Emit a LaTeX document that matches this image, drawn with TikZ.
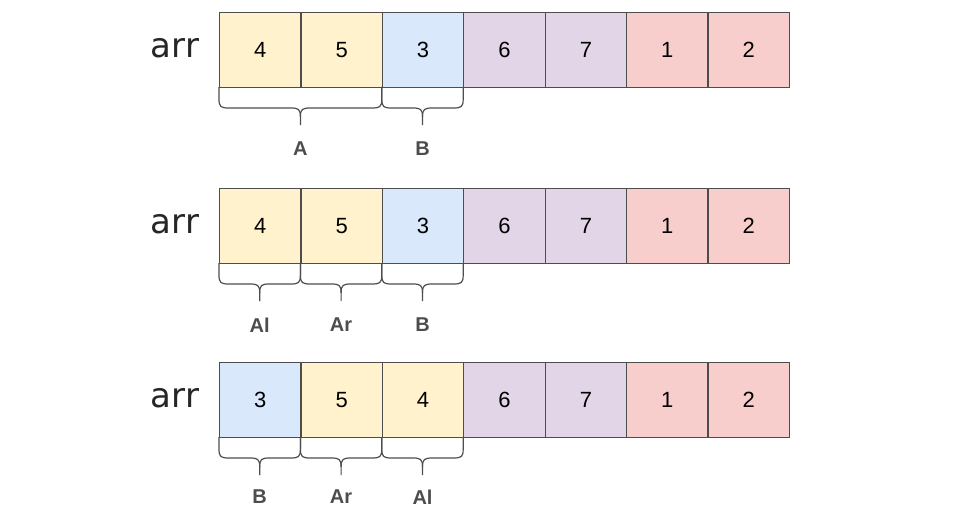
\documentclass[tikz,border=0pt]{standalone}
\usepackage{fontspec}
\setmainfont{Liberation Sans}
\newfontfamily\arrfont{DejaVu Sans}
\definecolor{cy}{HTML}{FFF2CC}
\definecolor{cb}{HTML}{DAE8FC}
\definecolor{cp}{HTML}{E1D5E7}
\definecolor{cr}{HTML}{F8CECC}
\definecolor{ln}{HTML}{4D4D4D}
\definecolor{lb}{HTML}{4D4D4D}
\begin{document}
\begin{tikzpicture}[x=1pt,y=-1pt,
  cell/.style={draw=ln,line width=1.2pt,minimum width=81.4pt,minimum height=75pt,inner sep=0pt,anchor=north west,font=\fontsize{22}{24}\selectfont},
  lab/.style={text=lb,font=\bfseries\fontsize{20}{22}\selectfont},
  arrlab/.style={text=black!85,font=\arrfont\fontsize{34}{36}\selectfont},
  br/.style={draw=ln,line width=1.2pt}]
\useasboundingbox (0,0) rectangle (956,519);
\newcommand{\brc}[4]{% left x, right x, top y, name
  \pgfmathsetmacro{\mm}{(#1+#2)/2}
  \draw[br] (#1,#3) -- (#1,#3+12) .. controls (#1,#3+20) and (#1+2,#3+21) .. (#1+10,#3+21)
    -- (\mm-10,#3+21) .. controls (\mm-2,#3+21) and (\mm,#3+22) .. (\mm,#3+30) -- (\mm,#3+38);
  \draw[br] (#2,#3) -- (#2,#3+12) .. controls (#2,#3+20) and (#2-2,#3+21) .. (#2-10,#3+21)
    -- (\mm+10,#3+21) .. controls (\mm+2,#3+21) and (\mm,#3+22) .. (\mm,#3+30);
  \coordinate (#4) at (\mm,#3+38);
}
\foreach \r/\yy/\a/\ca/\b/\cbb/\c/\cc in {1/12/4/cy/5/cy/3/cb, 2/188/4/cy/5/cy/3/cb, 3/362/3/cb/5/cy/4/cy}{
  \node[arrlab] (arr\r) at (175,\yy+36) {arr};
  \node[cell,fill=\ca] (c\r1) at (219,\yy) {\a};
  \node[cell,fill=\cbb] (c\r2) at (300.4,\yy) {\b};
  \node[cell,fill=\cc] (c\r3) at (381.8,\yy) {\c};
  \node[cell,fill=cp] (c\r4) at (463.2,\yy) {6};
  \node[cell,fill=cp] (c\r5) at (544.6,\yy) {7};
  \node[cell,fill=cr] (c\r6) at (626,\yy) {1};
  \node[cell,fill=cr] (c\r7) at (707.4,\yy) {2};
}
\brc{219}{381.8}{87}{t1a}
\brc{381.8}{463.2}{87}{t1b}
\node[lab] (l1a) at (300.4,149) {A};
\node[lab] (l1b) at (422.5,149) {B};
\brc{219}{300.4}{263}{t2a}
\brc{300.4}{381.8}{263}{t2b}
\brc{381.8}{463.2}{263}{t2c}
\node[lab] (l2a) at (259.7,325) {Al};
\node[lab] (l2b) at (341.1,325) {Ar};
\node[lab] (l2c) at (422.5,325) {B};
\brc{219}{300.4}{437}{t3a}
\brc{300.4}{381.8}{437}{t3b}
\brc{381.8}{463.2}{437}{t3c}
\node[lab] (l3a) at (259.7,497) {B};
\node[lab] (l3b) at (341.1,497) {Ar};
\node[lab] (l3c) at (422.5,497) {Al};
\end{tikzpicture}
\end{document}
